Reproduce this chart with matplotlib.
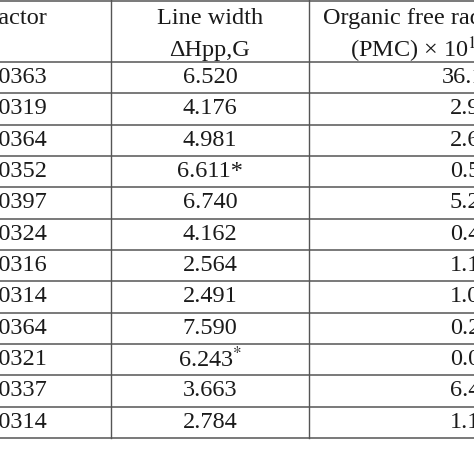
import matplotlib
matplotlib.use("Agg")
import matplotlib.pyplot as plt

plt.rcParams['font.family'] = ['Liberation Serif', 'DejaVu Serif']
plt.rcParams['mathtext.fontset'] = 'stix'

g_factor = ["2.00363", "2.00319", "2.00364", "2.00352", "2.00397", "2.00324",
            "2.00316", "2.00314", "2.00364", "2.00321", "2.00337", "2.00314"]
line_width = ["6.520", "4.176", "4.981", "6.611*", "6.740", "4.162",
              "2.564", "2.491", "7.590", r"6.243$^{*}$", "3.663", "2.784"]
radicals = ["36.1", "2.95", "2.64", "0.55", "5.21", "0.44",
            "1.12", "1.05", "0.21", "0.03", "6.45", "1.12"]
headers = ["g-factor", "Line width\nΔHpp,G", "Organic free radicals\n(PMC) × 10$^{17}$"]

fig = plt.figure(figsize=(4.74, 4.74), dpi=100)
ax = fig.add_axes([0, 0, 1, 1])
ax.set_xlim(0, 474)
ax.set_ylim(474, 0)
ax.axis('off')

lc = '#555555'
tc = '#1a1a1a'
fs = 17.5
top, hdr, rh = 0.5, 62, 31.33
n = len(g_factor)
bottom = hdr + rh * n
for y in [top, hdr] + [hdr + rh * (i + 1) for i in range(n)]:
    ax.plot([0, 474], [y, y], color=lc, lw=1.1)
for x in [110.7, 309.3]:
    ax.plot([x, x], [0, bottom], color=lc, lw=1.0)

ax.text(47, 18, headers[0], ha='right', va='center', fontsize=fs, color=tc, clip_on=True)
l1, l2 = headers[1].split("\n")
ax.text(210, 18, l1, ha='center', va='center', fontsize=fs, color=tc)
ax.text(210, 50, l2, ha='center', va='center', fontsize=fs, color=tc)
r1, r2 = headers[2].split("\n")
ax.text(323, 18, r1, ha='left', va='center', fontsize=fs, color=tc, clip_on=True)
ax.text(350, 50, r2, ha='left', va='center', fontsize=fs, color=tc, clip_on=True)

for i in range(n):
    yc = hdr + rh * (i + 0.5)
    ax.text(48, yc, g_factor[i], ha='right', va='center', fontsize=fs, color=tc, clip_on=True)
    ax.text(210, yc, line_width[i], ha='center', va='center', fontsize=fs, color=tc)
    xl = 442 if len(radicals[i].split('.')[0]) == 2 else 450
    ax.text(xl, yc, radicals[i], ha='left', va='center', fontsize=fs, color=tc, clip_on=True)

fig.savefig("out.png", dpi=100)
